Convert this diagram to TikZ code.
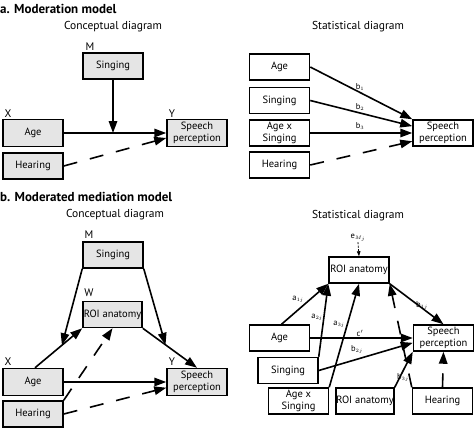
\documentclass[tikz,border=0pt]{standalone}
\usepackage{fontspec}
\setmainfont{PT Sans}
\usetikzlibrary{arrows.meta,calc}
\begin{document}
\begin{tikzpicture}[x=1pt,y=-1pt,
  box/.style={draw, line width=1.5pt, minimum width=60pt, minimum height=26pt, inner sep=0pt, align=center, font=\fontsize{10.5}{11.5}\selectfont},
  cbox/.style={box, fill=black!10},
  lab/.style={font=\fontsize{11}{12}\selectfont, inner sep=0pt},
  coef/.style={font=\fontsize{8.5}{9}\selectfont, inner sep=0pt},
  title/.style={font=\bfseries\fontsize{13}{14}\selectfont, inner sep=0pt, anchor=west},
  sub/.style={font=\fontsize{11.5}{12}\selectfont, inner sep=0pt},
  arr/.style={line width=1.6pt, -{Triangle[length=12pt,width=8.5pt]}},
  darr/.style={arr, dash pattern=on 14pt off 13pt},
  sarr/.style={line width=0.8pt, dash pattern=on 2pt off 1.5pt, -{Triangle[length=5pt,width=3.5pt]}}
]
\useasboundingbox (0,0) rectangle (474,429);

% ---------- a ----------
\node[title] (ta) at (0,9) {a. Moderation model};
\node[sub] (ca) at (113,27) {Conceptual diagram};
\node[sub] (sa) at (358,27) {Statistical diagram};

\node[cbox] (singA) at (113,66) {Singing};
\node[cbox, minimum height=27pt] (ageA) at (33,133) {Age};
\node[cbox, minimum height=27pt] (spA) at (197,133) {Speech\\perception};
\node[cbox] (hearA) at (33,166) {Hearing};
\node[lab] (mA) at (90,47) {M};
\node[lab] (xA) at (8,114) {X};
\node[lab] (yA) at (172,114) {Y};
\coordinate (mAt) at (singA.south |- ageA.east);
\draw[arr] (singA.south) -- (mAt);
\draw[arr] (ageA.east) -- (spA.west);
\draw[darr] (hearA.east) -- ($(spA.west)!0.35!(spA.south west)$);

\node[box] (ageS) at (279.5,67) {Age};
\node[box] (singS) at (279.5,100.5) {Singing};
\node[box] (axsS) at (279.5,133) {Age x\\Singing};
\node[box] (hearS) at (279.5,165) {Hearing};
\node[box] (spS) at (443,133) {Speech\\perception};
\draw[arr] (ageS.east) -- (spS.north west);
\draw[arr] (singS.east) -- ($(spS.west)!0.5!(spS.north west)$);
\draw[arr] (axsS.east) -- (spS.west);
\draw[darr] (hearS.east) -- ($(spS.west)!0.6!(spS.south west)$);
\node[coef] (b1) at (360,87) {b$_{\scriptscriptstyle 1}$};
\node[coef] (b2) at (360,107) {b$_{\scriptscriptstyle 2}$};
\node[coef] (b3) at (360,126) {b$_{\scriptscriptstyle 3}$};

% ---------- b ----------
\node[title] (tb) at (0,197) {b. Moderated mediation model};
\node[sub] (cb) at (115,215) {Conceptual diagram};
\node[sub] (sb) at (358,216) {Statistical diagram};

\node[cbox] (singB) at (113,255) {Singing};
\node[cbox, minimum width=59pt] (roiB) at (112.5,314.5) {ROI anatomy};
\node[cbox, minimum height=27pt] (ageB) at (33,382) {Age};
\node[cbox, minimum height=27pt] (spB) at (197,382) {Speech\\perception};
\node[cbox] (hearB) at (33,414) {Hearing};
\node[lab] (mB) at (89,235) {M};
\node[lab] (wB) at (89,293) {W};
\node[lab] (xB) at (8,362) {X};
\node[lab] (yB) at (172,362) {Y};
\coordinate (agN) at ($(ageB.north)+(2,0)$);
\draw[arr] (agN) -- (roiB.south west);
\draw[arr] (singB.south west) -- ($(agN)!0.57!(roiB.south west)$);
\draw[arr] (roiB.south east) -- (spB.north);
\draw[arr] (singB.south east) -- ($(roiB.south east)!0.42!(spB.north)$);
\draw[arr] (ageB.east) -- (spB.west);
\draw[darr] (hearB.east) -- ($(spB.west)!0.4!(spB.south west)$);
\draw[darr] (hearB.north east) -- (roiB.south);

\node[box] (roiS) at (359,270) {ROI anatomy};
\node[box] (ageS2) at (279.5,338) {Age};
\node[box] (singS2) at (288,370.5) {Singing};
\node[box] (axsS2) at (298.5,401) {Age x\\Singing};
\node[box, minimum width=58pt] (roiS2) at (365,401) {ROI anatomy};
\node[box] (hearS2) at (442.5,401) {Hearing};
\node[box] (spS2) at (443.5,338) {Speech\\perception};
\node[coef] (eM) at (358,238) {e$_{\scriptscriptstyle M_j}$};
\draw[sarr] (eM.south) -- (roiS.north);
\coordinate (agN2) at ($(ageS2.north)+(2,0)$);
\draw[arr] (agN2) -- (roiS.south west);
\draw[arr] (singS2.north east) -- (roiS.south west);
\draw[arr] (axsS2.north east) -- (roiS.south);
\draw[arr] (roiS.south east) -- (spS2.north);
\draw[arr] (ageS2.east) -- (spS2.west);
\draw[arr] (singS2.east) -- ($(spS2.west)!0.35!(spS2.south west)$);
\draw[arr] (roiS2.north east) -- (spS2.south west);
\draw[darr] (hearS2.north) -- (spS2.south);
\draw[darr] (hearS2.north west) -- (roiS.south east);
\node[coef] (a1) at (298,299) {a$_{\scriptscriptstyle 1j}$};
\node[coef] (a2) at (317,317) {a$_{\scriptscriptstyle 2j}$};
\node[coef] (a3) at (339,324) {a$_{\scriptscriptstyle 3j}$};
\node[coef] (b1j) at (422,306) {b$_{\scriptscriptstyle 1j}$};
\node[coef] (cp) at (360,333) {c$'$};
\node[coef] (b2j) at (357,350) {b$_{\scriptscriptstyle 2j}$};
\node[coef] (b3j) at (403,378) {b$_{\scriptscriptstyle 3j}$};
\end{tikzpicture}
\end{document}
